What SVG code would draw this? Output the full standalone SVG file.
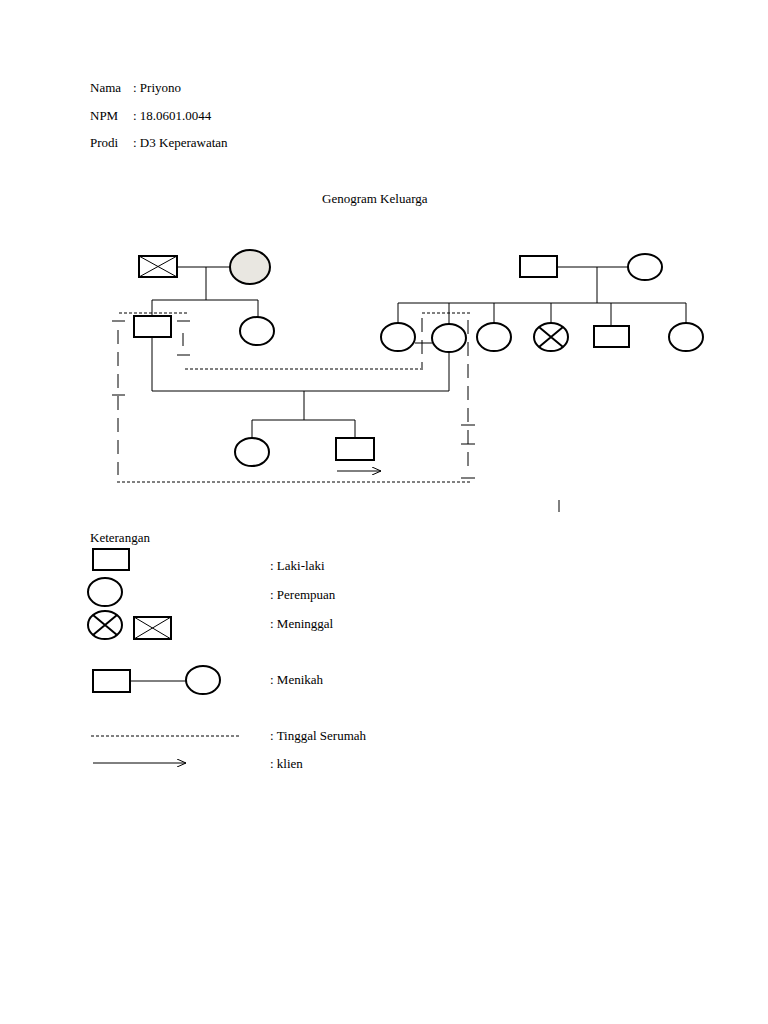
<svg xmlns="http://www.w3.org/2000/svg" width="768" height="1024" viewBox="0 0 768 1024">
<style>
text{font-family:"Liberation Serif",serif;font-size:13px;fill:#000}
.s{fill:#fff;stroke:#000;stroke-width:2}
.t{stroke:#000;stroke-width:1;fill:none}
.d{stroke:#000;stroke-width:1;fill:none;stroke-dasharray:3,2}
.l{stroke:#000;stroke-width:1;fill:none;stroke-dasharray:14,8}
</style>
<defs><marker id="a" markerWidth="10" markerHeight="8" refX="9" refY="4" orient="auto" markerUnits="userSpaceOnUse"><path d="M0,0 L9,4 L0,8" fill="none" stroke="#000"/></marker></defs>
<rect width="768" height="1024" fill="#fff"/>
<text x="90" y="92">Nama</text><text x="133" y="92">: Priyono</text>
<text x="90" y="120">NPM</text><text x="133" y="120">: 18.0601.0044</text>
<text x="90" y="147">Prodi</text><text x="133" y="147">: D3 Keperawatan</text>
<text x="322" y="203">Genogram Keluarga</text>
<g id="connectors">
<path class="t" d="M177,267H230M206,267V300M152,300H258V317M152,300V316M152,337V391H449V352M304,391V420M252,420H355M252,420V438M355,420V438"/>
<path class="t" d="M557,267H628M597,267V303M398,303H686M398,303V323M449,303V324M494,303V323M551,303V323M611,303V326M686,303V323M415,343H432"/>
<path class="t" d="M337,471H381" marker-end="url(#a)"/>
<path class="d" d="M119,313H188M185,369H424M422,313H470M117,482H472"/>
<path class="l" d="M118,330V475M422,318V368M468,320V470"/>
<path class="t" d="M112,321H125M112,395H125M177,321H190M183,333V346M177,355H190M461,425H475M461,444H475M461,478H475M559,500V512"/>
</g>
<g id="gf"><rect class="s" x="139" y="256" width="38" height="21"/><path class="t" d="M139,256L177,277M177,256L139,277"/></g>
<g id="gm"><ellipse cx="250" cy="267" rx="20" ry="17" fill="#e9e7e1" stroke="#000" stroke-width="2"/></g>
<g id="father"><rect class="s" x="134" y="316" width="37" height="21"/></g>
<g id="aunt"><ellipse class="s" cx="257" cy="331" rx="17" ry="14"/></g>
<g id="rgf"><rect class="s" x="520" y="256" width="37" height="21"/></g>
<g id="rgm"><ellipse class="s" cx="645" cy="267" rx="17" ry="13"/></g>
<g id="c1"><ellipse class="s" cx="398" cy="337" rx="17" ry="14"/></g>
<g id="mother"><ellipse class="s" cx="449" cy="338" rx="17" ry="14"/></g>
<g id="c3"><ellipse class="s" cx="494" cy="337" rx="17" ry="14"/></g>
<g id="c4"><ellipse class="s" cx="551" cy="337" rx="17" ry="14"/><path class="s" d="M539,327L563,347M563,327L539,347"/></g>
<g id="c5"><rect class="s" x="594" y="326" width="35" height="21"/></g>
<g id="c6"><ellipse class="s" cx="686" cy="337" rx="17" ry="14"/></g>
<g id="sis"><ellipse class="s" cx="252" cy="452" rx="17" ry="14"/></g>
<g id="client"><rect class="s" x="336" y="438" width="38" height="22"/></g>
<text x="90" y="542">Keterangan</text>
<g id="legend">
<rect class="s" x="93" y="549" width="36" height="21"/>
<ellipse class="s" cx="105" cy="592" rx="17" ry="14"/>
<ellipse class="s" cx="105" cy="625" rx="17" ry="14"/><path class="s" d="M93,615L117,635M117,615L93,635"/>
<rect class="s" x="134" y="617" width="37" height="22"/><path class="t" d="M134,617L171,639M171,617L134,639"/>
<rect class="s" x="93" y="670" width="37" height="22"/><path class="t" d="M130,681H186"/><ellipse class="s" cx="203" cy="680" rx="17" ry="14"/>
<path class="d" d="M91,736H240"/>
<path class="t" d="M93,763H186" marker-end="url(#a)"/>
</g>
<text x="270" y="570">: Laki-laki</text>
<text x="270" y="599">: Perempuan</text>
<text x="270" y="628">: Meninggal</text>
<text x="270" y="684">: Menikah</text>
<text x="270" y="740">: Tinggal Serumah</text>
<text x="270" y="768">: klien</text>
</svg>
